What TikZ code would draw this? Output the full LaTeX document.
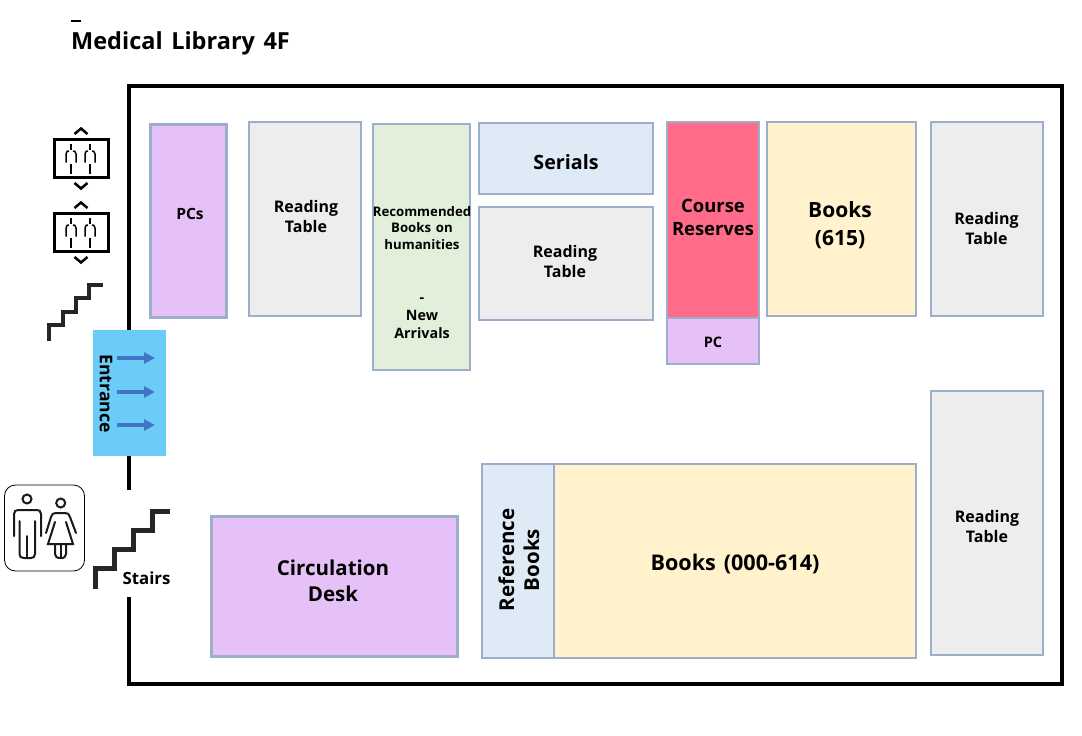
\documentclass[tikz,border=0pt]{standalone}
\usepackage{fontspec}
\setmainfont{Open Sans}[WordSpace=1.4]
\usetikzlibrary{arrows.meta}
\definecolor{edgeblue}{HTML}{9DAECD}
\definecolor{lilac}{HTML}{E6C1F7}
\definecolor{tablegrey}{HTML}{EDEDED}
\definecolor{leafgreen}{HTML}{E2EFDA}
\definecolor{paleblue}{HTML}{DEEAF6}
\definecolor{reserve}{HTML}{FF6B88}
\definecolor{bookyellow}{HTML}{FFF2CC}
\definecolor{entrance}{HTML}{6BCDF7}
\definecolor{arrowblue}{HTML}{4472C4}
\newcommand{\roomfont}[2]{\bfseries\fontsize{#1}{#2}\selectfont}
\tikzset{
  room/.style={shape=rectangle, draw=edgeblue, line width=1.8, inner sep=0pt},
  roomtext/.style={align=center, inner sep=0pt},
  wall/.style={line width=4.5, line join=miter},
  steps/.style={draw=black!85, line join=miter},
  icon/.style={draw=black!90, line width=2, line cap=round},
}
\begin{document}
\begin{tikzpicture}[x=1pt, y=-1pt]
\useasboundingbox (0,0) rectangle (1082,736);

% title
\node[font=\roomfont{23.5}{28}, anchor=west, inner sep=0pt] at (71, 43)
(title) {Medical Library 4F};
\coordinate (dashl) at (71,21);
\coordinate (dashr) at (81,21);
\draw[line width=2] (dashl) -- (dashr);

% walls
\coordinate (wallA) at (129,490);
\coordinate (wallB) at (129,86);
\coordinate (wallC) at (1062,86);
\coordinate (wallD) at (1062,684);
\coordinate (wallE) at (129,684);
\coordinate (wallF) at (129,597);
\draw[wall] (wallA) -- (wallB) -- (wallC) -- (wallD) -- (wallE) -- (wallF);

% top row
\node[room, fill=lilac, line width=3, minimum width=76, minimum height=193] at (188.5, 220.5)
(pcs) {};
\node[roomtext, font=\roomfont{15.5}{18}] at (190, 213.5)
(pcstext) {PCs};
\node[room, fill=tablegrey, minimum width=112, minimum height=194] at (305, 219)
(table1) {};
\node[roomtext, font=\roomfont{16}{20}] at (306, 216.5)
(table1text) {Reading\\Table};
\node[room, fill=leafgreen, minimum width=97, minimum height=246] at (421.5, 247)
(recommended) {};
\node[roomtext, font=\roomfont{13.2}{16.5}] at (422, 228)
(humanities) {Recommended\\Books on\\humanities};
\node[roomtext, font=\roomfont{14.3}{18}] at (422, 318)
(arrivals) {-\\New\\Arrivals};
\node[room, fill=paleblue, minimum width=174, minimum height=71] at (566, 158.5)
(serials) {};
\node[roomtext, font=\roomfont{19.7}{24}] at (566, 162)
(serialstext) {Serials};
\node[room, fill=tablegrey, minimum width=174, minimum height=113] at (566, 263.5)
(table2) {};
\node[roomtext, font=\roomfont{16}{20}] at (565, 261.5)
(table2text) {Reading\\Table};
\node[room, fill=reserve, minimum width=92, minimum height=196] at (713, 220)
(course) {};
\node[roomtext, font=\roomfont{18.4}{23}] at (713, 217.5)
(coursetext) {Course\\Reserves};
\node[room, fill=lilac, minimum width=92, minimum height=46] at (713, 341)
(pc) {};
\node[roomtext, font=\roomfont{14.5}{16}] at (713, 342)
(pctext) {PC};
\node[room, fill=bookyellow, minimum width=149, minimum height=194] at (841.5, 219)
(books615) {};
\node[roomtext, font=\roomfont{21}{28}] at (840, 225)
(books615text) {Books\\(615)};
\node[room, fill=tablegrey, minimum width=112, minimum height=194] at (987, 219)
(table3) {};
\node[roomtext, font=\roomfont{16}{20}] at (986.5, 228.5)
(table3text) {Reading\\Table};

% bottom row
\node[room, fill=tablegrey, minimum width=112, minimum height=264] at (987, 523)
(table4) {};
\node[roomtext, font=\roomfont{16}{20}] at (987, 526.5)
(table4text) {Reading\\Table};
\node[room, fill=paleblue, minimum width=72, minimum height=194] at (518, 561)
(reference) {};
\node[roomtext, font=\roomfont{20.5}{25}, rotate=90] at (519, 560)
(referencetext) {Reference\\Books};
\node[room, fill=bookyellow, minimum width=362, minimum height=194] at (735, 561)
(books) {};
\node[roomtext, font=\roomfont{21.6}{24}] at (735, 563.5)
(bookstext) {Books (000-614)};
\node[room, fill=lilac, line width=3, minimum width=246, minimum height=140] at (334.5, 586)
(desk) {};
\node[roomtext, font=\roomfont{20.5}{26}] at (333, 580.5)
(desktext) {Circulation\\Desk};

% entrance
\node[shape=rectangle, fill=entrance, minimum width=73, minimum height=126, inner sep=0pt] at (129.5, 393)
(door) {};
\node[roomtext, font=\roomfont{17.5}{20}, rotate=-90] at (106, 393.5)
(doortext) {Entrance};
\foreach \i/\y in {1/358, 2/392, 3/425} {
  \coordinate (in\i) at (117,\y);
  \coordinate (out\i) at (155,\y);
  \draw[arrowblue, line width=3.2, -{Triangle[length=11pt, width=11pt]}] (in\i) -- (out\i);
}

% lifts
\foreach \n/\y in {1/0, 2/74} {
  \begin{scope}[yshift=-\y]
    \node[shape=rectangle, draw=black, line width=3, minimum width=54, minimum height=38, inner sep=0pt] at (81, 158.5)
    (lift\n) {};
    \draw[line width=2.5] (74.5,134) -- (81,128.5) -- (87.5,134);
    \draw[line width=2.5] (74.5,183) -- (81,188.5) -- (87.5,183);
    \foreach \x in {71, 90} {
      \draw[line width=2] (\x,144) -- (\x,149.5);
      \draw[line width=2] (\x,164) -- (\x,174);
      \draw[line width=1.5] (\x-5,162.5) -- (\x-5,154) .. controls (\x-5,151) and (\x-3,151) .. (\x-2,151);
      \draw[line width=1.5] (\x+5,162.5) -- (\x+5,154) .. controls (\x+5,151) and (\x+3,151) .. (\x+2,151);
    }
  \end{scope}
}

% stairs
\draw[steps, line width=3.5] (49,341) -- (49,325) -- (63,325) -- (63,312) -- (76,312)
  -- (76,298) -- (89,298) -- (89,285) -- (102.5,285);
\draw[steps, line width=5] (95,589) -- (95,568) -- (114,568) -- (114,549) -- (133,549)
  -- (133,530) -- (152,530) -- (152,511) -- (170,511);
\node[roomtext, font=\roomfont{16.8}{18}] at (146.5, 578.5)
(stairs) {Stairs};

% toilets
\node[shape=rectangle, draw=black, rounded corners=11, minimum width=80, minimum height=86, inner sep=0pt, line width=0.8] at (44.5, 528)
(wc) {};
\draw[icon] (27,499) circle (4.5);
\draw[icon] (60.7,503) circle (4.5);
\draw[icon] (14,536) -- (14,514) .. controls (14,511) and (16,510) .. (18,510) -- (37,510)
  .. controls (39,510) and (41,511) .. (41,514) -- (41,536);
\draw[icon] (19.5,521) -- (19.5,554) .. controls (19.5,557) and (21,558) .. (24,558) -- (31,558)
  .. controls (33,558) and (35,557) .. (35,554) -- (35,521);
\draw[icon] (27,536) -- (27,558);
\draw[icon] (46,533) -- (51,517) .. controls (52,514) and (53,513) .. (56,513) -- (65,513)
  .. controls (68,513) and (69,514) .. (70,517) -- (76,533);
\draw[icon] (55,522) -- (48,544) -- (73,544) -- (66,522);
\draw[icon] (55,544) -- (55,554) .. controls (55,557) and (57,558) .. (60.7,558)
  .. controls (64,558) and (66,557) .. (66,554) -- (66,544);
\draw[icon] (60.7,544) -- (60.7,558);
\end{tikzpicture}
\end{document}
